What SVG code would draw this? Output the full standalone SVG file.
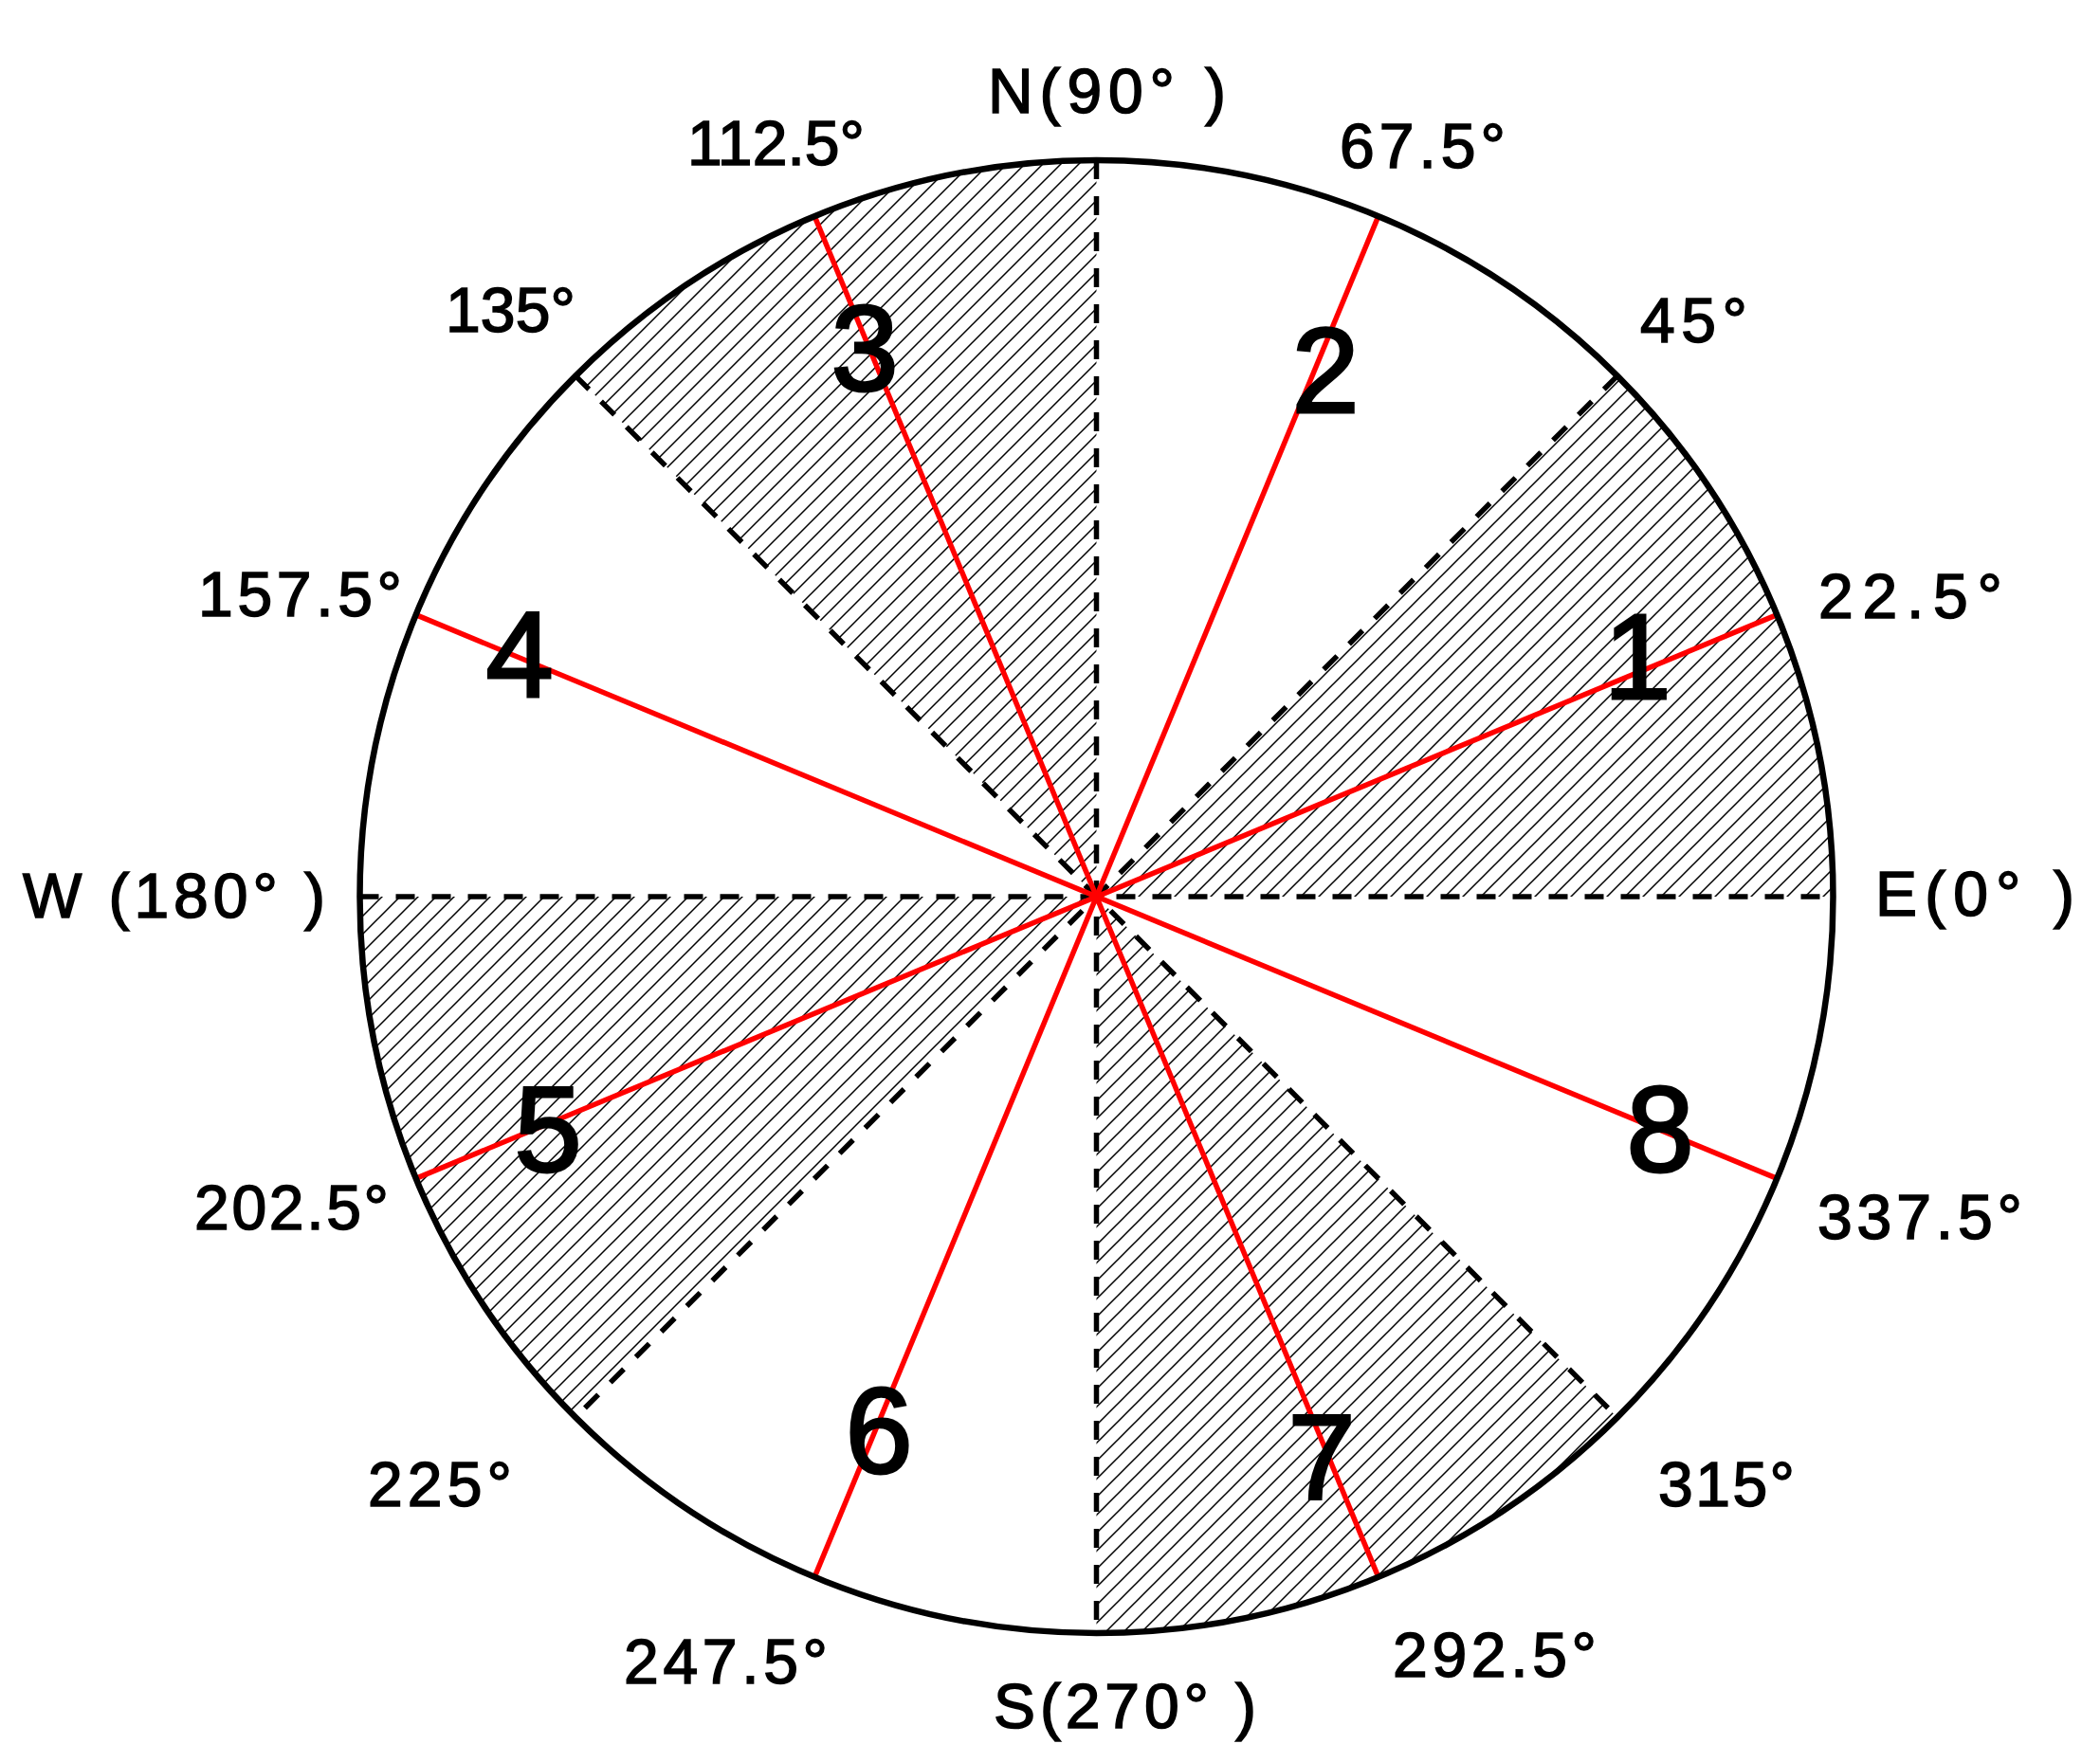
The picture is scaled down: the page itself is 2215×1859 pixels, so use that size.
<svg xmlns="http://www.w3.org/2000/svg" width="2215" height="1859" viewBox="0 0 2215 1859">
<style>
.lbl{font-family:"Liberation Sans",Arial,sans-serif;font-size:66px;fill:#000;stroke:#000;stroke-width:1.6}
.num{font-family:"Liberation Sans",Arial,sans-serif;font-size:128px;fill:#000;stroke:#000;stroke-width:3;text-anchor:middle}
.dash{stroke:#000;stroke-width:5.5;stroke-dasharray:20 18;fill:none}
.red{stroke:#ff0000;stroke-width:5.5;fill:none}
.sec{fill:url(#hatch);stroke:none}
</style>
<defs>
<pattern id="hatch" patternUnits="userSpaceOnUse" width="19" height="19">
<path d="M-2,2 L2,-2 M0,19 L19,0 M17,21 L21,17" stroke="#000" stroke-width="1.5"/>
</pattern>
</defs>
<rect width="2215" height="1859" fill="#fff"/>
<g id="sectors">
<path id="sector1" class="sec" d="M1156.5,946 L1933.5,946 A777,777 0 0 0 1705.9,396.6 Z"/>
<path id="sector3" class="sec" d="M1156.5,946 L1156.5,169 A777,777 0 0 0 607.1,396.6 Z"/>
<path id="sector5" class="sec" d="M1156.5,946 L379.5,946 A777,777 0 0 0 607.1,1495.4 Z"/>
<path id="sector7" class="sec" d="M1156.5,946 L1156.5,1723 A777,777 0 0 0 1705.9,1495.4 Z"/>
</g>
<g id="connectors">
<line class="dash" x1="379.5" y1="946" x2="1933.5" y2="946"/>
<line class="dash" x1="1156.5" y1="169" x2="1156.5" y2="1723"/>
<line class="dash" x1="1705.9" y1="396.6" x2="607.1" y2="1495.4"/>
<line class="dash" x1="607.1" y1="396.6" x2="1705.9" y2="1495.4"/>
<line class="red" x1="1874.35" y1="648.66" x2="438.65" y2="1243.34"/>
<line class="red" x1="1453.84" y1="228.15" x2="859.16" y2="1663.85"/>
<line class="red" x1="859.16" y1="228.15" x2="1453.84" y2="1663.85"/>
<line class="red" x1="438.65" y1="648.66" x2="1874.35" y2="1243.34"/>
</g>
<g id="circle">
<circle cx="1156.5" cy="946" r="777" fill="none" stroke="#000" stroke-width="6.5"/>
</g>
<g id="numbers">
<text id="n1" class="num" x="1727" y="737">1</text>
<text id="n2" class="num" x="1398" y="435">2</text>
<text id="n3" class="num" x="912" y="412">3</text>
<text id="n4" class="num" x="548" y="735">4</text>
<text id="n5" class="num" x="578" y="1236">5</text>
<text id="n6" class="num" x="927" y="1554">6</text>
<text id="n7" class="num" x="1394" y="1582">7</text>
<text id="n8" class="num" x="1751" y="1236">8</text>
</g>
<g id="labels">
<text class="lbl" x="1042" y="119" textLength="251" lengthAdjust="spacing">N(90° )</text>
<text class="lbl" x="725" y="174" textLength="187" lengthAdjust="spacing">112.5°</text>
<text class="lbl" x="1413" y="177" textLength="175" lengthAdjust="spacing">67.5°</text>
<text class="lbl" x="470" y="350" textLength="137" lengthAdjust="spacing">135°</text>
<text class="lbl" x="1730" y="361" textLength="113" lengthAdjust="spacing">45°</text>
<text class="lbl" x="209" y="650" textLength="215" lengthAdjust="spacing">157.5°</text>
<text class="lbl" x="1918" y="652" textLength="194" lengthAdjust="spacing">22.5°</text>
<text class="lbl" x="24" y="968" textLength="319" lengthAdjust="spacing">W (180° )</text>
<text class="lbl" x="1978" y="966" textLength="210" lengthAdjust="spacing">E(0° )</text>
<text class="lbl" x="205" y="1297" textLength="205" lengthAdjust="spacing">202.5°</text>
<text class="lbl" x="1917" y="1307" textLength="216" lengthAdjust="spacing">337.5°</text>
<text class="lbl" x="388" y="1589" textLength="152" lengthAdjust="spacing">225°</text>
<text class="lbl" x="1749" y="1589" textLength="144" lengthAdjust="spacing">315°</text>
<text class="lbl" x="658" y="1776" textLength="215" lengthAdjust="spacing">247.5°</text>
<text class="lbl" x="1469" y="1769" textLength="215" lengthAdjust="spacing">292.5°</text>
<text class="lbl" x="1048" y="1823" textLength="277" lengthAdjust="spacing">S(270° )</text>
</g>
</svg>
